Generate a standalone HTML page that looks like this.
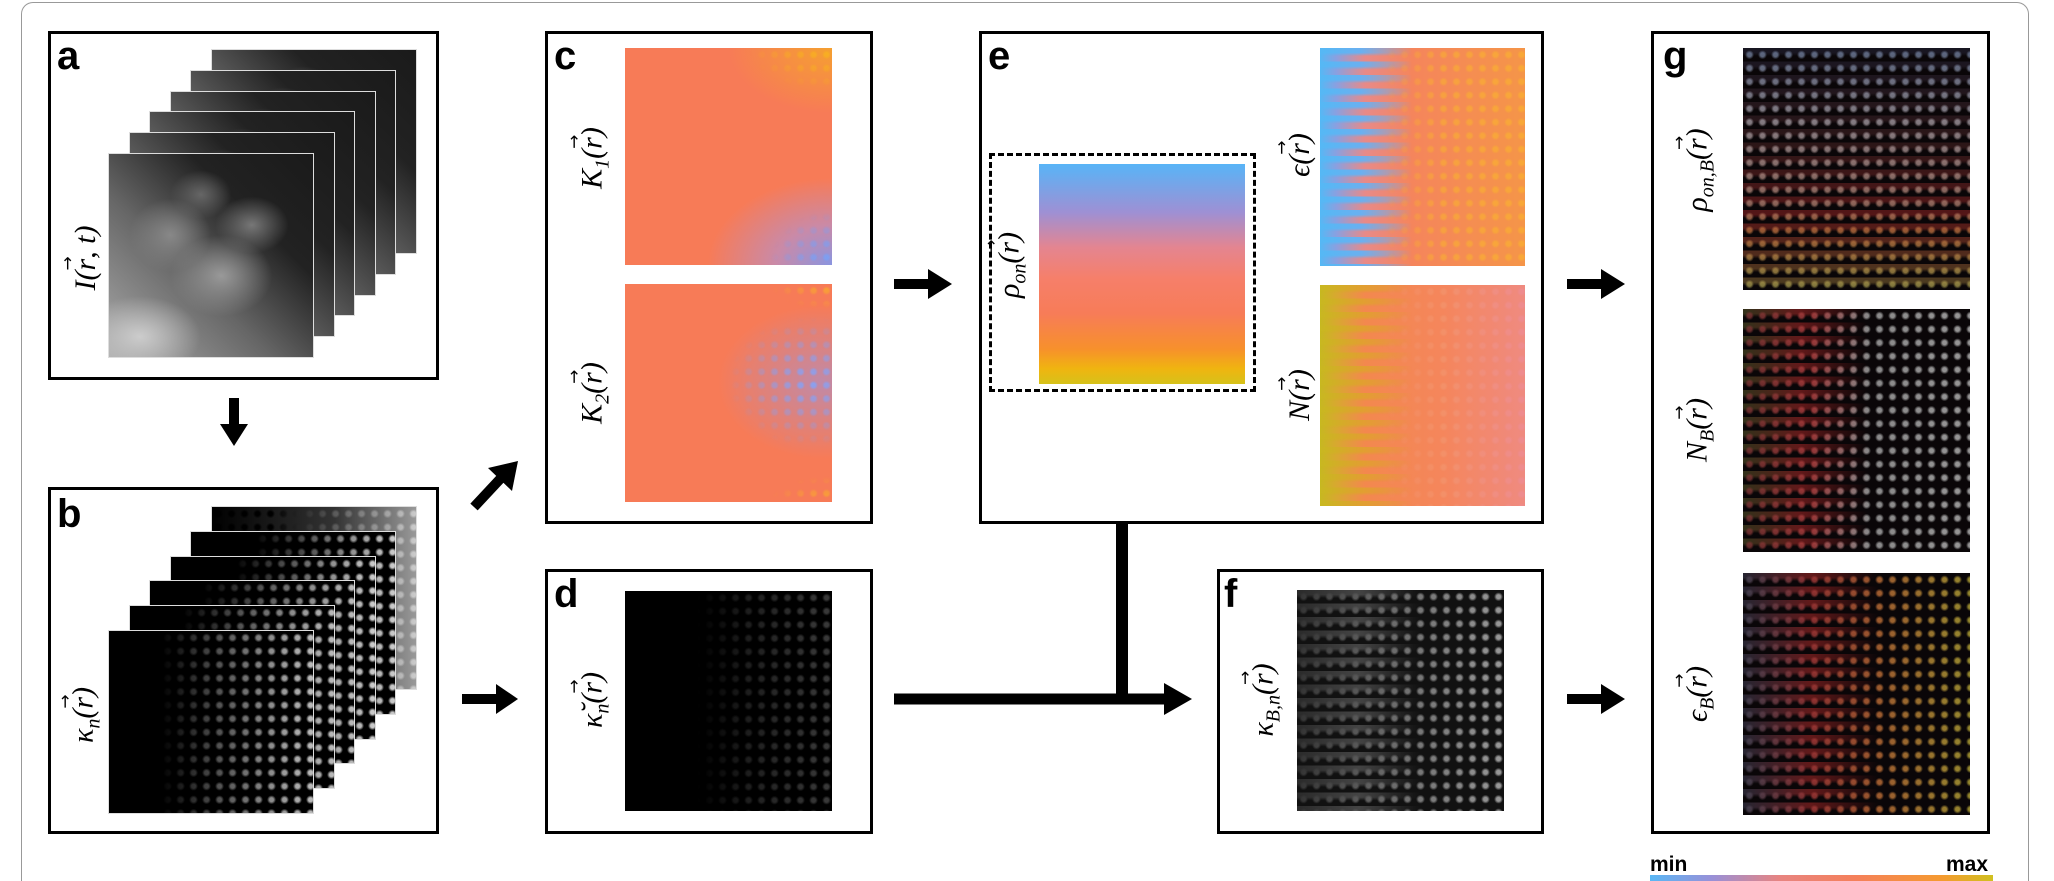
<!DOCTYPE html>
<html><head><meta charset="utf-8"><style>
*{margin:0;padding:0;box-sizing:border-box}
html{width:2054px;height:881px;overflow:hidden}
body{width:2054px;height:881px;background:#fff;position:relative;overflow:hidden;font-family:"Liberation Sans",sans-serif}
.abs{position:absolute}
.panel{position:absolute;border:3px solid #000;background:#fff}
.let{position:absolute;font-weight:bold;font-size:40px;line-height:1;color:#000}
.lab{position:absolute;font-family:"Liberation Serif",serif;font-style:italic;font-size:30px;white-space:nowrap;transform:translate(-50%,-50%) rotate(-90deg);color:#000}
.vr{position:relative;display:inline-block}
.vr b{position:absolute;left:0px;top:-11px;font-size:17px;font-weight:normal;font-style:normal;font-family:"DejaVu Sans",sans-serif}
.img{position:absolute;overflow:hidden}
.dots{position:absolute;inset:0;-webkit-mask-image:radial-gradient(circle,#000 2px,transparent 4.5px);-webkit-mask-size:13px 13.5px;mask-image:radial-gradient(circle,#000 2px,transparent 4.5px);mask-size:13px 13.5px}
.streak{position:absolute;inset:0;-webkit-mask-image:linear-gradient(to bottom,#000 0 35%,transparent 60% 100%);-webkit-mask-size:100% 13.5px}
.frame{position:absolute;border:1.5px solid #ddd;overflow:hidden}
</style></head><body>
<div class="abs" style="left:21px;top:2px;width:2008px;height:879px;border:1.5px solid #999;border-bottom:none;border-radius:12px 12px 0 0"></div>

<div class="panel" style="left:48px;top:31px;width:391px;height:349px"></div>
<div class="let" style="left:57px;top:36px">a</div>
<div id="stackA"></div>
<div class="lab" style="left:86px;top:258px">I(<span class="vr">r<b>→</b></span>, t)</div>

<div class="panel" style="left:48px;top:487px;width:391px;height:347px"></div>
<div class="let" style="left:57px;top:494px">b</div>
<div id="stackB"></div>
<div class="lab" style="left:86px;top:715px">κ<sub style="font-size:20px">n</sub>(<span class="vr">r<b>→</b></span>)</div>

<svg class="abs" style="left:0;top:0" width="2054" height="881">
<g fill="#000" stroke="#000">
<line x1="234" y1="398" x2="234" y2="432" stroke-width="10"/><polygon points="220,424 248,424 234,446" stroke="none"/>
<line x1="474" y1="507" x2="502" y2="477" stroke-width="10"/><polygon points="488,468 518,461 512,491" stroke="none"/>
<line x1="462" y1="699" x2="502" y2="699" stroke-width="10"/><polygon points="496,684 518,699 496,714" stroke="none"/>
<line x1="894" y1="284" x2="934" y2="284" stroke-width="10"/><polygon points="928,269 952,284 928,299" stroke="none"/>
<line x1="1567" y1="284" x2="1607" y2="284" stroke-width="10"/><polygon points="1601,269 1625,284 1601,299" stroke="none"/>
<line x1="1567" y1="699" x2="1607" y2="699" stroke-width="10"/><polygon points="1601,684 1625,699 1601,714" stroke="none"/>
<line x1="894" y1="699" x2="1170" y2="699" stroke-width="11"/><polygon points="1164,683 1192,699 1164,715" stroke="none"/>
<line x1="1122" y1="417" x2="1122" y2="704" stroke-width="12"/>
</g></svg>

<div class="panel" style="left:545px;top:31px;width:328px;height:493px"></div>
<div class="let" style="left:554px;top:36px">c</div>
<div class="img" style="left:625px;top:48px;width:207px;height:217px;background:radial-gradient(ellipse 60% 40% at 100% 100%,#8a95e0,#c98aa8 45%,rgba(247,123,87,0) 100%),radial-gradient(ellipse 50% 30% at 100% 0%,#f5a030,rgba(247,123,87,0)),#f77b57">
 <div class="dots" style="background:radial-gradient(ellipse 30% 25% at 100% 100%,#7aa0f5,rgba(0,0,0,0)),radial-gradient(ellipse 40% 20% at 100% 0%,#f8b020,rgba(0,0,0,0))"></div></div>
<div class="lab" style="left:595px;top:158px">K<sub style="font-size:20px">1</sub>(<span class="vr">r<b>→</b></span>)</div>
<div class="img" style="left:625px;top:284px;width:207px;height:218px;background:radial-gradient(ellipse 50% 35% at 95% 45%,#c08aa8,rgba(247,123,87,0)),#f77b57">
 <div class="dots" style="background:radial-gradient(ellipse 40% 30% at 90% 45%,#8aa0f0,rgba(0,0,0,0)),radial-gradient(ellipse 30% 12% at 100% 0%,#f8a830,rgba(0,0,0,0)),radial-gradient(ellipse 30% 12% at 100% 100%,#f8a830,rgba(0,0,0,0))"></div></div>
<div class="lab" style="left:595px;top:393px">K<sub style="font-size:20px">2</sub>(<span class="vr">r<b>→</b></span>)</div>

<div class="panel" style="left:545px;top:569px;width:328px;height:265px"></div>
<div class="let" style="left:554px;top:574px">d</div>
<div class="img" style="left:625px;top:591px;width:207px;height:220px;background:#000">
 <div class="dots" style="background:linear-gradient(to right,#000 35%,#1e1e1e 60%,#3a3a3a 100%)"></div></div>
<div class="lab" style="left:595px;top:700px">κ̆<sub style="font-size:20px">n</sub>(<span class="vr">r<b>→</b></span>)</div>

<div class="panel" style="left:979px;top:31px;width:565px;height:493px"></div>
<div class="let" style="left:988px;top:36px">e</div>
<div class="abs" style="left:989px;top:153px;width:267px;height:239px;border:3px dashed #000"></div>
<div class="img" style="left:1039px;top:164px;width:206px;height:220px;background:linear-gradient(to bottom,#58b4f7 0%,#9e90d4 22%,#e48590 38%,#f67f6a 52%,#f77c58 68%,#f7902c 84%,#f0b410 93%,#d6c21a 100%)"></div>
<div class="lab" style="left:1012px;top:265px">ρ<sub style="font-size:20px">on</sub>(<span class="vr">r<b>→</b></span>)</div>
<div class="img" style="left:1320px;top:48px;width:205px;height:218px;background:linear-gradient(to right,#55b8f5 0%,#8aa0e0 8%,#e88a88 22%,#f5855c 45%,#f59548 100%)">
 <div class="streak" style="background:linear-gradient(to right,#55b8f5 0%,#6ab0f0 20%,rgba(245,133,92,0) 45%)"></div>
 <div class="dots" style="background:linear-gradient(to right,rgba(0,0,0,0) 30%,#f7a040 60%,#f8a838 100%)"></div></div>
<div class="lab" style="left:1300px;top:155px">ϵ(<span class="vr">r<b>→</b></span>)</div>
<div class="img" style="left:1320px;top:285px;width:205px;height:221px;background:linear-gradient(to right,#c6b820 0%,#d8a830 8%,#f3884e 22%,#f5865c 60%,#ef8a80 100%)">
 <div class="streak" style="background:linear-gradient(to right,#c8b820 0%,#e0a030 20%,rgba(245,133,92,0) 45%)"></div>
 <div class="dots" style="background:linear-gradient(to right,rgba(0,0,0,0) 30%,#f39068 60%,#ee8c90 100%)"></div></div>
<div class="lab" style="left:1300px;top:395px">N(<span class="vr">r<b>→</b></span>)</div>

<div class="panel" style="left:1217px;top:569px;width:327px;height:265px"></div>
<div class="let" style="left:1224px;top:574px">f</div>
<div class="img" style="left:1297px;top:590px;width:207px;height:221px;background:#111">
 <div class="streak" style="background:linear-gradient(to right,#2a2a2a 0%,#444 30%,rgba(0,0,0,0) 60%)"></div>
 <div class="dots" style="background:linear-gradient(to right,#333 0%,#666 40%,#999 100%)"></div></div>
<div class="lab" style="left:1266px;top:700px">κ<sub style="font-size:20px">B,n</sub>(<span class="vr">r<b>→</b></span>)</div>

<div class="panel" style="left:1651px;top:31px;width:339px;height:803px"></div>
<div class="let" style="left:1663px;top:36px">g</div>
<div class="img" style="left:1743px;top:48px;width:227px;height:242px;background:#0a0608">
 <div class="streak" style="background:linear-gradient(to bottom,#223 0%,#422 40%,#822 70%,#763 100%);opacity:.6"></div>
 <div class="dots" style="opacity:.75;background:linear-gradient(to bottom,#7080a0 0%,#a8a0a8 30%,#b08070 65%,#c07040 75%,#a8a050 100%)"></div></div>
<div class="lab" style="left:1700px;top:170px">ρ<sub style="font-size:20px">on,B</sub>(<span class="vr">r<b>→</b></span>)</div>
<div class="img" style="left:1743px;top:309px;width:227px;height:243px;background:#0a0608">
 <div class="streak" style="background:linear-gradient(to right,#442 0%,#822 25%,rgba(0,0,0,0) 55%);opacity:.7"></div>
 <div class="dots" style="opacity:.8;background:linear-gradient(to right,#733 0%,#b04040 30%,#aaa 55%,#bbb 100%)"></div></div>
<div class="lab" style="left:1700px;top:430px">N<sub style="font-size:20px">B</sub>(<span class="vr">r<b>→</b></span>)</div>
<div class="img" style="left:1743px;top:573px;width:227px;height:242px;background:#0a0608">
 <div class="streak" style="background:linear-gradient(to right,#334 0%,#822 30%,rgba(0,0,0,0) 60%);opacity:.7"></div>
 <div class="dots" style="opacity:.8;background:linear-gradient(to right,#445 0%,#a03838 30%,#c07038 60%,#b8a838 100%)"></div></div>
<div class="lab" style="left:1700px;top:694px">ϵ<sub style="font-size:20px">B</sub>(<span class="vr">r<b>→</b></span>)</div>

<div class="abs" style="left:1650px;top:853px;font-weight:bold;font-size:21px">min</div>
<div class="abs" style="left:1946px;top:853px;font-weight:bold;font-size:21px">max</div>
<div class="abs" style="left:1650px;top:875px;width:343px;height:6px;background:linear-gradient(to right,#5ab8f5,#9890d8 18%,#e88480 38%,#f5805a 60%,#f59a30 85%,#d0c020)"></div>

<script>
function stack(id, x0, y0, w, h, dy, kind){
  const host=document.getElementById(id);
  for(let i=5;i>=0;i--){
    const d=document.createElement('div');
    d.className='frame';
    
    
    d.style.left=(x0+i*20.6)+'px';
    d.style.top=(y0-i*dy)+'px';
    d.style.width=w+'px';d.style.height=h+'px';
    if(kind==='a'){
      d.style.background='radial-gradient(ellipse 30% 20% at 15% 90%,#ccc,rgba(0,0,0,0)),radial-gradient(ellipse 25% 20% at 55% 60%,#999,rgba(0,0,0,0)),radial-gradient(ellipse 20% 18% at 30% 40%,#888,rgba(0,0,0,0)),radial-gradient(ellipse 18% 14% at 70% 35%,#777,rgba(0,0,0,0)),radial-gradient(ellipse 15% 12% at 45% 20%,#666,rgba(0,0,0,0)),linear-gradient(to top right,#aaa 0%,#666 40%,#222 70%,#1a1a1a 100%)';
    } else {
      d.style.background='#000';
      const dt=document.createElement('div');
      dt.className='dots';
      
      
      dt.style.background=i>2?'linear-gradient(to right,#000 30%,#777 70%,#ccc 100%)':'linear-gradient(to right,#000 25%,#555 55%,#bbb 100%)';
      d.appendChild(dt);
      if(i===5){d.style.background='linear-gradient(to right,#000,#333 60%,#999)';}
    }
    host.appendChild(d);
  }
}
stack('stackA',108,153,206,205,20.8,'a');
stack('stackB',108,630,206,184,24.8,'b');
</script>
</body></html>
